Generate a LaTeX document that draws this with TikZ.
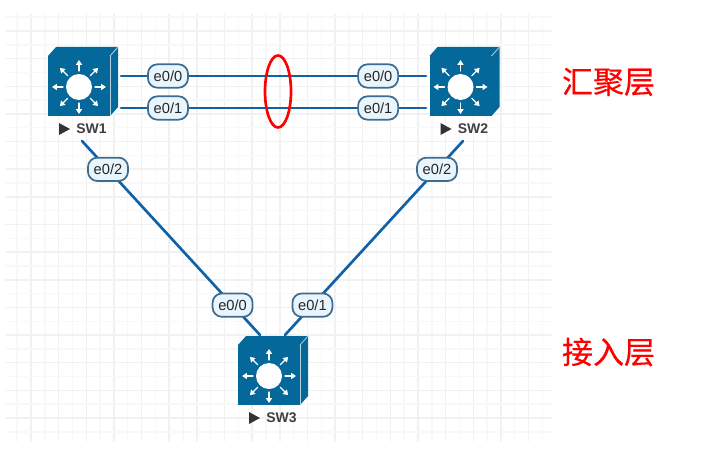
\documentclass[tikz,border=0pt]{standalone}
\usepackage{fontspec}
\setmainfont{Liberation Sans}
\newfontfamily\cjk[FakeBold=0.3]{Noto Sans CJK SC}
\usetikzlibrary{arrows.meta,shapes.geometric}
\definecolor{swblue}{HTML}{04689A}
\definecolor{linkblue}{HTML}{0F62A8}
\definecolor{labelfill}{HTML}{E9F5FD}
\definecolor{labeledge}{HTML}{3F6C8E}
\definecolor{gridminor}{HTML}{F8F8F8}
\definecolor{gridmajor}{HTML}{F1F1F1}
\tikzset{
    linkline/.style={color=linkblue,line width=2pt},
    portlabel/.style={draw=labeledge,fill=labelfill,line width=1.3pt,rounded corners=7pt,text=black!85,
        font=\fontsize{11pt}{12pt}\selectfont,minimum width=30pt,minimum height=17.5pt,inner sep=0pt},
    swfront/.style={fill=swblue,draw=none,minimum width=46.5pt,minimum height=45pt,inner sep=0pt},
    swname/.style={font=\bfseries\fontsize{10.5pt}{12pt}\selectfont,text=black!75,inner sep=0pt,anchor=west},
    layertext/.style={font=\cjk\fontsize{23.25pt}{26pt}\selectfont,text=red,inner sep=0pt},
    swicon/.pic={
        \fill [color=swblue] (0,0) -- (8,-9) -- (70,-9) -- (62,0) -- cycle;
        \fill [color=swblue] (62,0) -- (70,-9) -- (70,51) -- (62,60) -- cycle;
        \draw [color=white!70!swblue,line width=0.6pt] (62,0) -- (70,-9);
        \draw [color=white!70!swblue,line width=0.6pt] (62,0) -- (62,60);
        \node [swfront] (-body) at (31,30) {};
        \foreach \a in {0,45,...,315} {
            \draw [-{Triangle[length=3.6pt,width=4.5pt]},color=white,line width=0.9pt] (31,31) ++(\a:16) -- ++(\a:11);
        }
        \fill [color=white] (31,31) circle (13);
        \fill [color=black!80] (11,67) -- (22,73) -- (11,79) -- cycle;
        \node [swname] (-name) at (28,73) {#1};
    },
}
\begin{document}
\begin{tikzpicture}[line cap=round,line join=round,x=0.75pt,y=-0.75pt]
    \useasboundingbox (0,0) rectangle (709,467);
    \fill [color=white] (0,0) rectangle (709,467);
    % background grid
    \foreach \i in {0,...,38} {
        \pgfmathsetmacro{\gx}{17.2+13.82*\i}
        \pgfmathtruncatemacro{\odd}{mod(\i,2)}
        \ifnum\odd=1
            \draw [color=gridmajor,line width=1.1pt] (\gx,14) -- (\gx,441);
        \else
            \draw [color=gridminor,line width=1.1pt] (\gx,14) -- (\gx,441);
        \fi
    }
    \foreach \j in {0,...,30} {
        \pgfmathsetmacro{\gy}{17.2+13.82*\j}
        \pgfmathtruncatemacro{\odd}{mod(\j,2)}
        \ifnum\odd=1
            \draw [color=gridmajor,line width=1.1pt] (6,\gy) -- (551,\gy);
        \else
            \draw [color=gridminor,line width=1.1pt] (6,\gy) -- (551,\gy);
        \fi
    }
    % switches
    \pic (sw1) at (48,56) {swicon=SW1};
    \pic (sw2) at (429.5,56) {swicon=SW2};
    \pic (sw3) at (238,345) {swicon=SW3};
    % link ends
    \coordinate (sw1a) at (121,76);
    \coordinate (sw2a) at (426,76);
    \coordinate (sw1b) at (121,108);
    \coordinate (sw2b) at (426,108);
    \coordinate (sw1c) at (82,141);
    \coordinate (sw3a) at (260,335);
    \coordinate (sw2c) at (463,141);
    \coordinate (sw3b) at (285,335);
    % links
    \draw [linkline] (sw1a) -- node[portlabel,pos=0.154] (p1) {e0/0} node[portlabel,pos=0.843] (p2) {e0/0} (sw2a);
    \draw [linkline] (sw1b) -- node[portlabel,pos=0.154] (p3) {e0/1} node[portlabel,pos=0.843] (p4) {e0/1} (sw2b);
    \draw [linkline] (sw1c) -- node[portlabel,pos=0.146] (p5) {e0/2} node[portlabel,pos=0.846] (p6) {e0/0} (sw3a);
    \draw [linkline] (sw2c) -- node[portlabel,pos=0.146] (p7) {e0/2} node[portlabel,pos=0.846] (p8) {e0/1} (sw3b);
    % bundle mark and layer names
    \node [draw=red,line width=2pt,ellipse,minimum width=19.5pt,minimum height=54pt,inner sep=0pt] (bundle) at (278,91.5) {};
    \node [layertext] (agg) at (608.5,82) {汇聚层};
    \node [layertext] (acc) at (608.5,352) {接入层};
\end{tikzpicture}
\end{document}
